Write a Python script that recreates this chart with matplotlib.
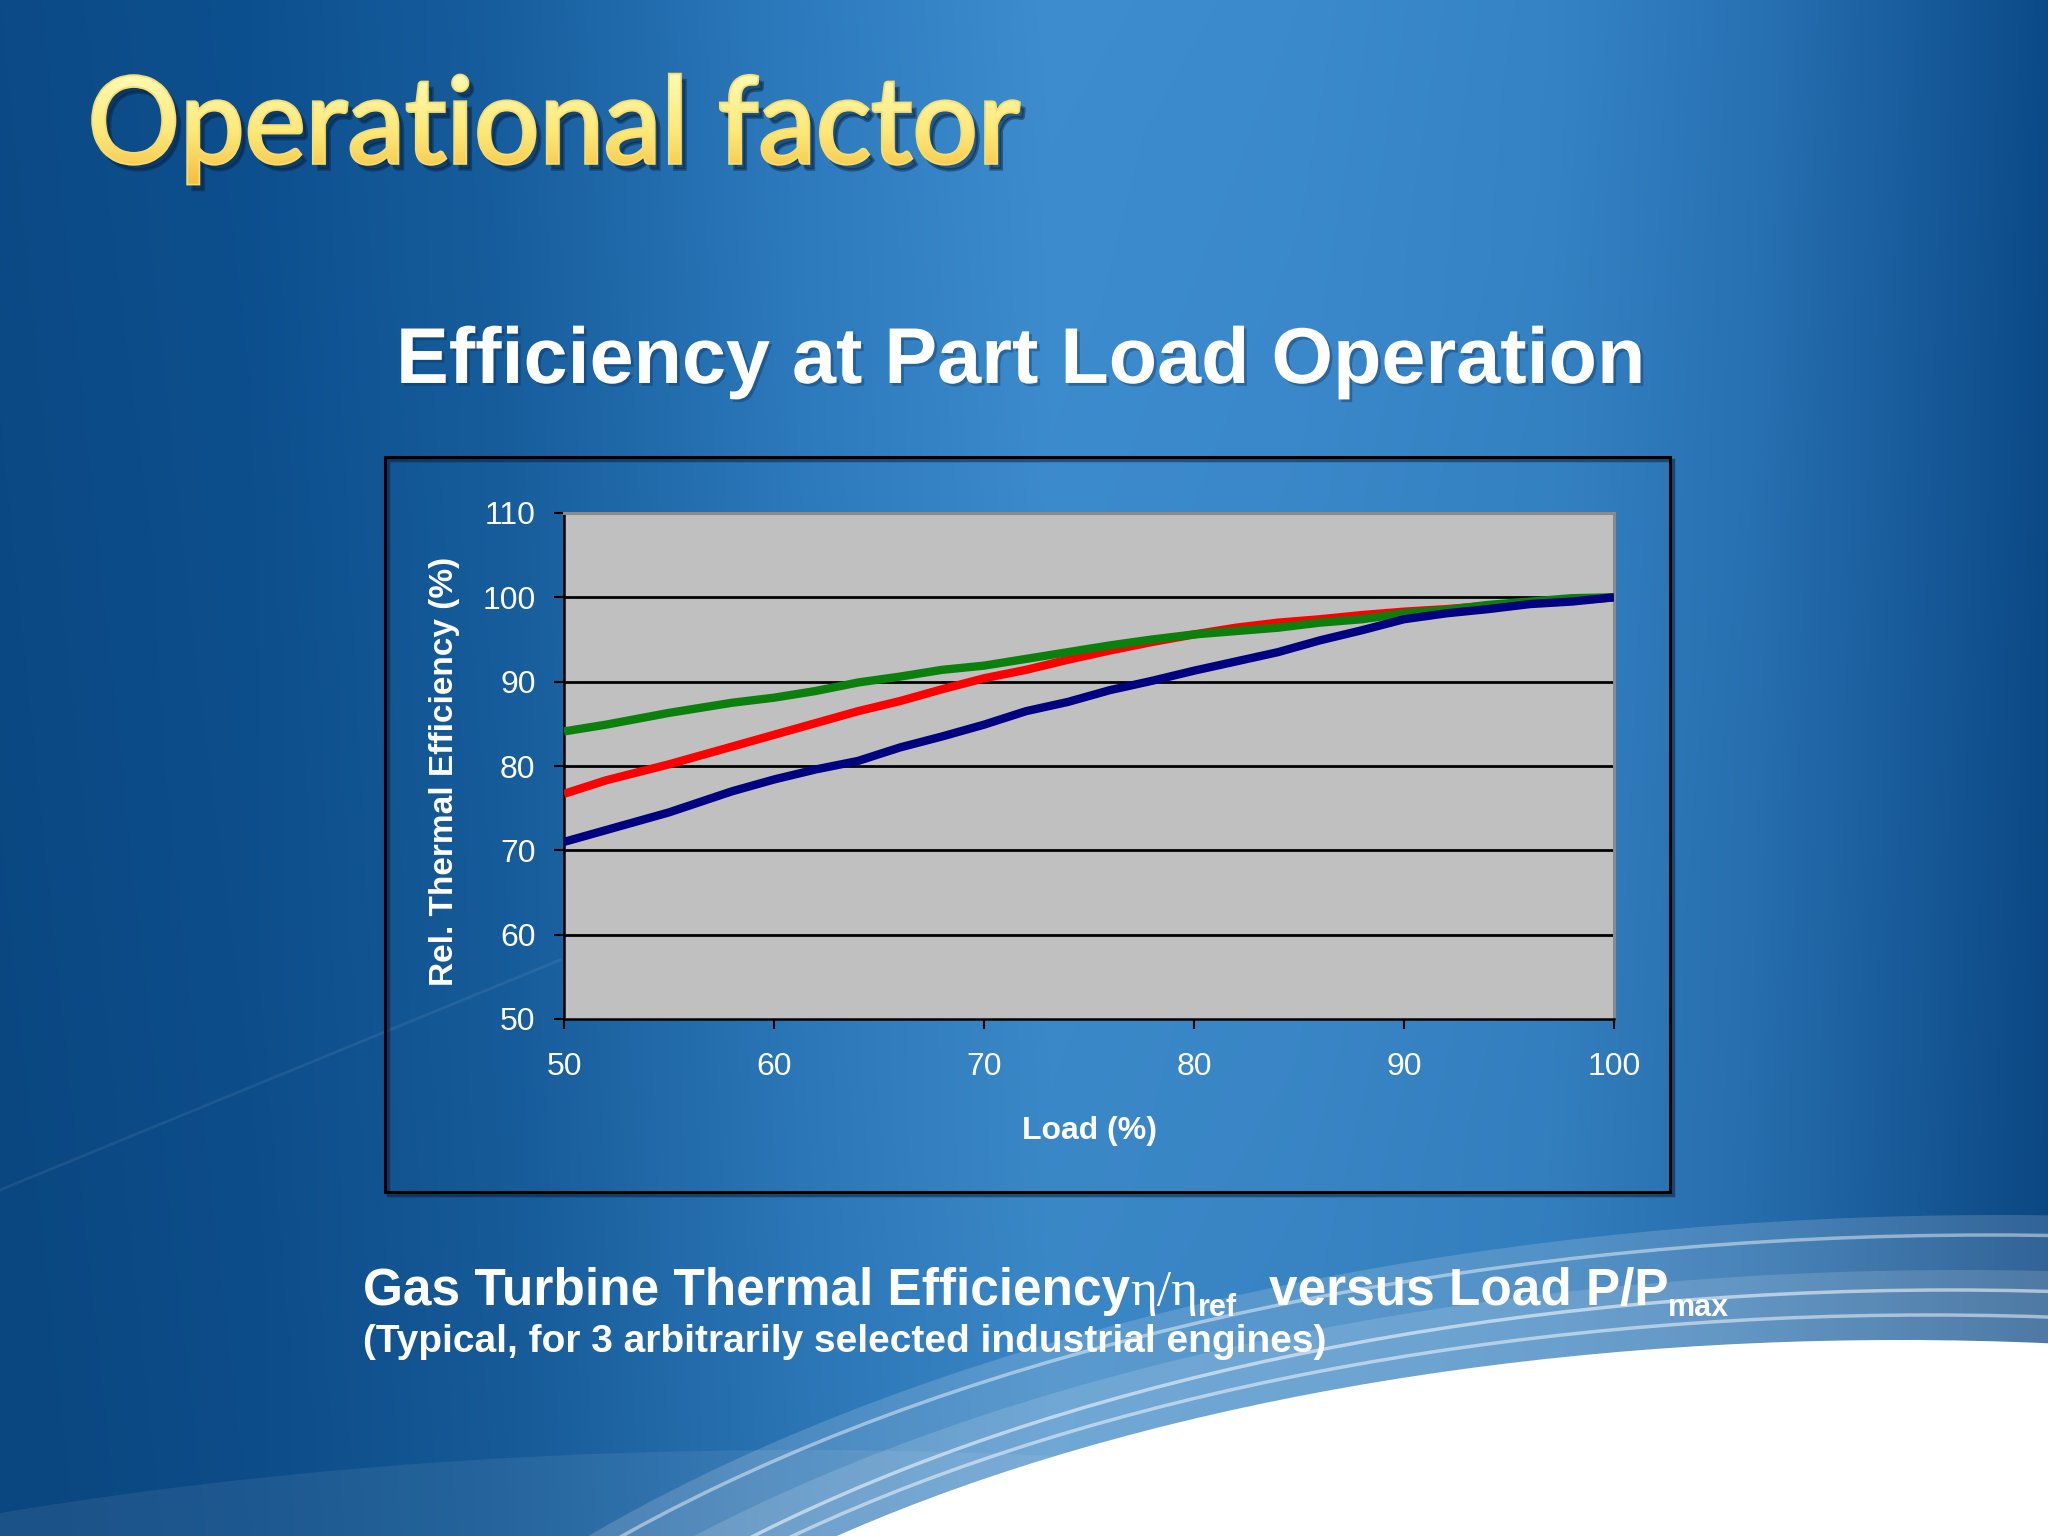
import numpy as np
import matplotlib
matplotlib.use('Agg')
import matplotlib.pyplot as plt
from matplotlib.textpath import TextPath
from matplotlib.patches import PathPatch, Rectangle, Ellipse
from matplotlib.font_manager import FontProperties
from matplotlib.colors import to_rgb
import matplotlib.transforms as mtransforms
import matplotlib.patheffects as pe

# ---------------- data ----------------
load = [50, 52, 55, 58, 60, 62, 64, 66, 68, 70, 72, 74, 76, 78, 80,
        82, 84, 86, 88, 90, 92, 94, 96, 98, 100]
engine_red = [76.7, 78.3, 80.2, 82.3, 83.7, 85.1, 86.5, 87.7, 89.1, 90.4, 91.4, 92.6, 93.7,
              94.7, 95.6, 96.4, 97.0, 97.4, 97.9, 98.3, 98.6, 99.0, 99.3, 99.6, 100.0]
engine_green = [84.1, 84.9, 86.3, 87.5, 88.1, 88.9, 89.9, 90.6, 91.4, 91.9, 92.7, 93.5, 94.3,
                95.0, 95.6, 96.0, 96.4, 97.0, 97.4, 98.1, 98.5, 99.1, 99.5, 99.9, 100.0]
engine_navy = [71.0, 72.4, 74.5, 77.0, 78.4, 79.6, 80.6, 82.2, 83.5, 84.9, 86.5, 87.6, 89.0,
               90.1, 91.3, 92.4, 93.5, 94.9, 96.1, 97.4, 98.1, 98.6, 99.2, 99.5, 100.0]
x_ticks = [50, 60, 70, 80, 90, 100]
y_ticks = [50, 60, 70, 80, 90, 100, 110]

slide_title = "Operational factor"
chart_title = "Efficiency at Part Load Operation"
x_label = "Load (%)"
y_label = "Rel. Thermal Efficiency (%)"
caption2 = "(Typical, for 3 arbitrarily selected industrial engines)"

SANS = ['Liberation Sans', 'DejaVu Sans']

W, H = 2048, 1536
fig = plt.figure(figsize=(W / 100, H / 100), dpi=100)
bg = fig.add_axes([0, 0, 1, 1])
bg.set_axis_off()

# ---------------- background gradient ----------------
stops_x = [0, 250, 500, 800, 1050, 1300, 1550, 1750, 1900, 2048]
stops_c = ['#0b4a86', '#0d508f', '#175e9e', '#2d7bbe', '#3d8dcf',
           '#3b8acc', '#3583c5', '#2872b4', '#1a5e9f', '#0b4a88']
rgb = np.array([to_rgb(c) for c in stops_c])
xs = np.arange(W)
prof = np.stack([np.interp(xs, stops_x, rgb[:, k]) for k in range(3)], axis=-1)
ys = np.linspace(0, 1, H // 4)
vert = 1.0 - 0.05 * ys
img = np.clip(prof[None, :, :] * vert[:, None, None], 0, 1)
bg.imshow(img, extent=[0, W, H, 0], aspect='auto', zorder=0, interpolation='bilinear')

# faint streaks
bg.plot([0, 560], [1190, 960], color='white', alpha=0.07, lw=2, zorder=1)

# lower-left soft hill
bg.add_patch(Ellipse((800, 2050), 2 * 1793, 2 * 600, facecolor='white', alpha=0.07,
                     edgecolor='none', zorder=1))
# translucent swoosh bands
bg.add_patch(Ellipse((2000, 2100), 2 * 1832, 2 * 885, facecolor='white', alpha=0.16,
                     edgecolor='none', zorder=1))
bg.add_patch(Ellipse((1960, 2070), 2 * 1700, 2 * 800, facecolor='white', alpha=0.14,
                     edgecolor='none', zorder=1))
for (cx, cy, a, b, al) in [(1990, 2095, 1800, 860, 0.45), (1950, 2080, 1650, 790, 0.55),
                           (1930, 2060, 1600, 745, 0.5)]:
    bg.add_patch(Ellipse((cx, cy), 2 * a, 2 * b, facecolor='none', edgecolor='white',
                         alpha=al, lw=2.5, zorder=1))
# white main swoosh
bg.add_patch(Ellipse((1900, 2040), 2 * 1532, 2 * 700, facecolor='white', edgecolor='none',
                     zorder=2))

# ---------------- slide title with gradient ----------------
fp = FontProperties(family='Lato')
tp = TextPath((0, 0), slide_title, size=100, prop=fp)
capO = TextPath((0, 0), 'O', size=100, prop=fp).get_extents()
ext = tp.get_extents()
sx = 926 / ext.width
sy = 87 / capO.y1
tr = mtransforms.Affine2D().translate(-ext.x0, 0).scale(sx, -sy).translate(93, 163)
tpath = tr.transform_path(tp)
spath = mtransforms.Affine2D().translate(5, 6).transform_path(tpath)
bg.add_patch(PathPatch(spath, facecolor='#06223f', edgecolor='#06223f', lw=2.5, alpha=0.45,
                       zorder=3))
# thickening stroke (heavier weight like the original face)
bg.add_patch(PathPatch(tpath, facecolor='none', edgecolor='#f9dc6a', lw=2.6, zorder=3.5))
clip = PathPatch(tpath, facecolor='none', edgecolor='none', transform=bg.transData)
bg.add_patch(clip)
top_c, mid_c, bot_c = np.array(to_rgb('#fffbb8')), np.array(to_rgb('#fde878')), np.array(to_rgb('#f2b534'))
t = np.linspace(0, 1, 200)[:, None]
grad = np.where(t < 0.5, top_c + (mid_c - top_c) * (t / 0.5), mid_c + (bot_c - mid_c) * ((t - 0.5) / 0.5))
gim = bg.imshow(grad[:, None, :], extent=[80, 1035, 195, 70], aspect='auto', zorder=4,
                interpolation='bilinear')
gim.set_clip_path(clip)

# ---------------- chart title ----------------
bg.text(396, 383, chart_title, fontsize=57, fontweight='bold', family=SANS, color='white',
        ha='left', va='baseline', zorder=5,
        path_effects=[pe.withSimplePatchShadow(offset=(2, -2), shadow_rgbFace='#0a2a55', alpha=0.35)])

# chart frame
bg.add_patch(Rectangle((388, 460), 1285, 735, fill=False, ec='#061a33', lw=2.5, alpha=0.5, zorder=5))
bg.add_patch(Rectangle((385, 457), 1285, 735, fill=False, ec='black', lw=2.2, zorder=6))

# ---------------- chart ----------------
ax = fig.add_axes([564 / W, 1 - 1019 / H, 1050 / W, 506 / H], zorder=10)
ax.set_facecolor('#c0c0c0')
ax.plot(load, engine_red, color='#ff0000', lw=6, solid_capstyle='butt', zorder=3)
ax.plot(load, engine_green, color='#0c800c', lw=6, solid_capstyle='butt', zorder=4)
ax.plot(load, engine_navy, color='#000080', lw=6, solid_capstyle='butt', zorder=5)
ax.set_xlim(50, 100)
ax.set_ylim(50, 110)
ax.set_xticks(x_ticks)
ax.set_yticks(y_ticks)
ax.set_xticklabels([str(v) for v in x_ticks], family=SANS)
ax.set_yticklabels([str(v) for v in y_ticks], family=SANS)
for v in y_ticks[1:-1]:
    ax.axhline(v, color='black', lw=2.0, zorder=2)
ax.tick_params(axis='both', direction='out', length=7.5, width=1.5, color='black',
               labelsize=23, labelcolor='white')
ax.tick_params(axis='y', pad=13)
ax.tick_params(axis='x', pad=16)
for s in ['left', 'bottom']:
    ax.spines[s].set_color('black')
    ax.spines[s].set_linewidth(1.8)
for s in ['top', 'right']:
    ax.spines[s].set_color('#8a8a8a')
    ax.spines[s].set_linewidth(2.2)
ax.set_ylabel(y_label, fontsize=24, fontweight='bold', color='white', family=SANS, va='center')
ax.yaxis.set_label_coords((445 - 564) / 1050, (1019 - 771) / 506)
ax.set_xlabel(x_label, fontsize=23, fontweight='bold', color='white', family=SANS, va='center')
ax.xaxis.set_label_coords((1089 - 564) / 1050, (1019 - 1131) / 506)

# ---------------- caption ----------------
r = fig.canvas.get_renderer()


def draw_runs(x, y, runs):
    for s, kw, dy in runs:
        if s.strip() == '':
            tt = bg.text(x, y, 'n', alpha=0, **kw)
            bb = tt.get_window_extent(renderer=r)
            x += bb.width * 0.5 * len(s)
            continue
        tt = bg.text(x, y + dy, s, ha='left', va='baseline', color='white', zorder=7, **kw)
        bb = tt.get_window_extent(renderer=r)
        x += bb.width


big = dict(fontsize=37, fontweight='bold', family=SANS)
sub = dict(fontsize=22, fontweight='bold', family=SANS)
greek = dict(fontsize=37, fontweight='normal', family=['Liberation Serif', 'DejaVu Serif'])
draw_runs(363, 1305, [
    ("Gas Turbine Thermal Efficiency", big, 0),
    ("\u03b7/\u03b7", greek, 0),
    ("ref", sub, 11),
    ("  ", big, 0),
    ("versus Load P/P", big, 0),
    ("max", sub, 11),
])
bg.text(363, 1352, caption2, fontsize=28, fontweight='bold', family=SANS, color='white',
        ha='left', va='baseline', zorder=7)

bg.set_xlim(0, W)
bg.set_ylim(H, 0)

fig.savefig('out.png', dpi=100)
